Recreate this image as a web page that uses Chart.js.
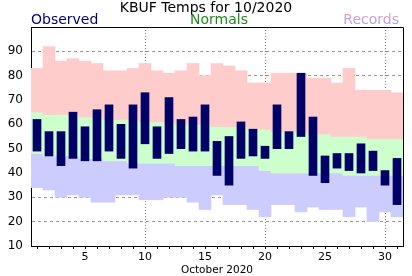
<!DOCTYPE html>
<html>
<head>
<meta charset="utf-8">
<script src="https://cdn.jsdelivr.net/npm/chart.js@4"></script>
<style>
  html, body { margin: 0; padding: 0; background: #fff; }
  #wrap { width: 412px; height: 276px; position: relative; }
</style>
</head>
<body>
<div id="wrap"><canvas id="c" width="412" height="276"></canvas></div>
<script>
const days = ['1','2','3','4','5','6','7','8','9','10','11','12','13','14','15','16','17','18','19','20','21','22','23','24','25','26','27','28','29','30','31'];
const obsHigh = [62,57,57,65,59,66,68,60,68,73,59,71,62,63,68,53,55,61,58,51,68,57,81,63,47,48,48,52,49,41,46];
const obsLow  = [49,47,43,46,45,45,49,46,42,52,46,48,50,49,49,39,35,46,47,46,50,50,55,39,36,42,41,40,41,35,27];
const normHigh = [65,64,64,64,63,63,62,62,62,61,61,61,60,60,60,59,59,59,58,58,57,57,57,56,56,55,55,55,54,54,54];
const normLow  = [48,47,47,47,46,46,45,45,44,44,44,44,43,43,43,43,43,43,43,41,40,40,40,40,40,40,39,39,39,39,39];
const recHigh = [83,92,86,87,86,85,82,82,83,85,82,81,82,85,80,85,84,82,77,77,81,81,81,79,79,77,83,74,74,74,73];
const recLow  = [34,33,30,31,30,28,28,31,31,29,29,30,30,28,25,31,27,27,25,22,27,27,24,26,25,25,22,26,20,24,22];
const yTicks = [10,20,30,40,50,60,70,80,90];
const xLabelDays = ['5','10','15','20','25','30'];
const titleText = 'KBUF Temps for 10/2020';
const xTitle = 'October 2020';

const FONT = '"DejaVu Sans", Verdana, sans-serif';

const pairs = (lo, hi) => lo.map((v, i) => [v, hi[i]]);

const textPlugin = {
  id: 'texts',
  afterDraw(chart) {
    const ctx = chart.ctx;
    const a = chart.chartArea;
    ctx.save();
    ctx.strokeStyle = '#000';
    ctx.lineWidth = 1;
    ctx.beginPath();
    ctx.moveTo(Math.round(a.left) + 0.5, Math.round(a.top) + 0.5);
    ctx.lineTo(Math.round(a.right) + 0.5, Math.round(a.top) + 0.5);
    ctx.lineTo(Math.round(a.right) + 0.5, Math.round(a.bottom) + 0.5);
    ctx.stroke();
    ctx.font = '14px ' + FONT;
    ctx.textBaseline = 'alphabetic';
    ctx.fillStyle = '#000';
    ctx.textAlign = 'center';
    ctx.fillText(titleText, chart.width / 2, 12);
    ctx.textAlign = 'left';
    ctx.fillStyle = '#000080';
    ctx.fillText('Observed', a.left, 24);
    ctx.textAlign = 'center';
    ctx.fillStyle = '#1e8c1e';
    ctx.fillText('Normals', (a.left + a.right) / 2 + 2, 24);
    ctx.textAlign = 'right';
    const g = ctx.createLinearGradient(0, 12, 0, 24);
    g.addColorStop(0, '#ffa0b0');
    g.addColorStop(1, '#a0a0ff');
    ctx.fillStyle = g;
    ctx.fillText('Records', a.right - 4, 24);
    ctx.restore();
  }
};

new Chart(document.getElementById('c'), {
  type: 'bar',
  data: {
    labels: days,
    datasets: [
      { label: 'Observed', data: pairs(obsLow, obsHigh), backgroundColor: '#000066', barThickness: 8, grouped: false, order: 0, borderWidth: 0 },
      { label: 'Record High', data: pairs(normHigh, recHigh), backgroundColor: '#ffcccc', barPercentage: 1, categoryPercentage: 1, grouped: false, order: 1, borderWidth: 0 },
      { label: 'Normals', data: pairs(normLow, normHigh), backgroundColor: '#ccffcc', barPercentage: 1, categoryPercentage: 1, grouped: false, order: 1, borderWidth: 0 },
      { label: 'Record Low', data: pairs(recLow, normLow), backgroundColor: '#ccccff', barPercentage: 1, categoryPercentage: 1, grouped: false, order: 1, borderWidth: 0 }
    ]
  },
  options: {
    responsive: false,
    animation: false,
    devicePixelRatio: 1,
    layout: { padding: { top: 27, right: 9, left: 0, bottom: 0 } },
    plugins: { legend: { display: false }, title: { display: false }, tooltip: { enabled: false } },
    scales: {
      x: {
        z: 1,
        grid: {
          offset: false,
          drawOnChartArea: true,
          color: (c) => (c.tick && Number(days[c.index]) % 10 === 0) ? '#808080' : 'rgba(0,0,0,0)',
          tickColor: '#000',
          tickLength: 3,
          tickBorderDash: [],
          lineWidth: 1
        },
        border: { display: true, color: '#000', width: 1, dash: [1, 2] },
        ticks: {
          autoSkip: false,
          maxRotation: 0,
          padding: 3,
          color: '#000',
          font: { family: FONT, size: 11, lineHeight: 1 },
          callback: function (v, i) { const l = days[i]; return xLabelDays.includes(l) ? l : ''; }
        },
        title: { display: true, text: xTitle, color: '#000', font: { family: FONT, size: 10.5, lineHeight: 1 }, padding: { top: -4, bottom: 0 } },
        afterFit: (s) => { s.height = 30; }
      },
      y: {
        z: 1,
        min: yTicks[0],
        max: 100,
        grid: {
          drawTicks: false,
          color: (c) => (c.tick && yTicks.includes(c.tick.value) && c.tick.value !== yTicks[0]) ? '#999999' : 'rgba(0,0,0,0)',
          lineWidth: 1
        },
        border: { display: true, color: '#000', width: 1, dash: [3, 3] },
        ticks: {
          stepSize: 10,
          padding: 8,
          color: '#000',
          font: { family: FONT, size: 12 },
          callback: (v) => yTicks.includes(v) ? String(v) : ''
        },
        afterFit: (s) => { s.width = 31; }
      }
    }
  },
  plugins: [textPlugin]
});
</script>
</body>
</html>
